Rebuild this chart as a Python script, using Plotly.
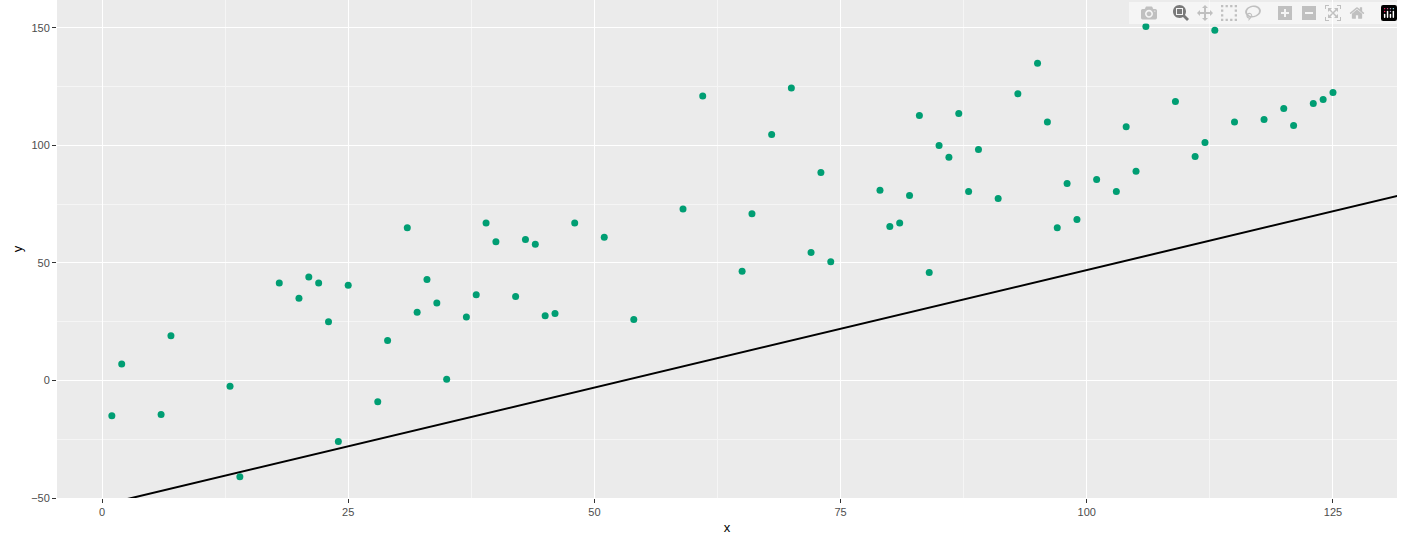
import plotly.graph_objects as go

xs = [1,2,6,7,13,14,18,20,21,22,23,24,25,28,29,31,32,33,34,35,37,38,39,40,42,43,44,45,46,48,51,54,59,61,65,66,68,70,72,73,74,79,80,81,82,83,84,85,86,87,88,89,91,93,95,96,97,98,99,101,103,104,105,106,109,111,112,113,115,118,120,121,123,124,125]
ys = [-15,7,-14.5,19,-2.5,-41,41.5,35,44,41.5,25,-26,40.5,-9,17,65,29,43,33,0.5,27,36.5,67,59,35.7,60,58,27.5,28.5,67,61,26,73,121,46.5,71,104.7,124.5,54.5,88.5,50.5,81,65.5,67,78.7,112.8,46,100,95,113.6,80.4,98.3,77.4,122,135,110,65,83.8,68.5,85.5,80.4,108,89,150.6,118.7,95.3,101.3,149,110,111,115.7,108.5,117.9,119.6,122.5]
line_x = [-10, 140]
intercept, slope = -53, 1.0
line_y = [intercept + slope * v for v in line_x]

fig = go.Figure()
fig.add_trace(go.Scatter(x=line_x, y=line_y, mode="lines", line=dict(color="black", width=2), showlegend=False))
fig.add_trace(go.Scatter(x=xs, y=ys, mode="markers", marker=dict(color="#009E73", size=7), showlegend=False))

ax = dict(showgrid=True, gridcolor="white", gridwidth=1.2, zeroline=False,
          ticks="outside", ticklen=4, tickcolor="#333333",
          tickfont=dict(family="Liberation Sans, Arial", size=11, color="#4D4D4D"))
fig.update_xaxes(**ax, range=[-4.57, 131.5], tickvals=[0,25,50,75,100,125],
                 minor=dict(showgrid=True, gridcolor="#F5F5F5", gridwidth=0.6, tick0=12.5, dtick=25),
                 title=dict(text="x", font=dict(size=13, color="black"), standoff=5))
fig.update_yaxes(**ax, range=[-50, 161.9], tickvals=[-50,0,50,100,150],
                 minor=dict(showgrid=True, gridcolor="#F5F5F5", gridwidth=0.6, tick0=-25, dtick=50),
                 title=dict(text="y", font=dict(size=13, color="black"), standoff=5))
fig.update_layout(width=1403, height=540, paper_bgcolor="white", plot_bgcolor="#EBEBEB",
                  margin=dict(l=57, r=6, t=0, b=42),
                  font=dict(family="Liberation Sans, Arial"))
fig.write_html("out.html", post_script="document.body.style.margin='0';")
